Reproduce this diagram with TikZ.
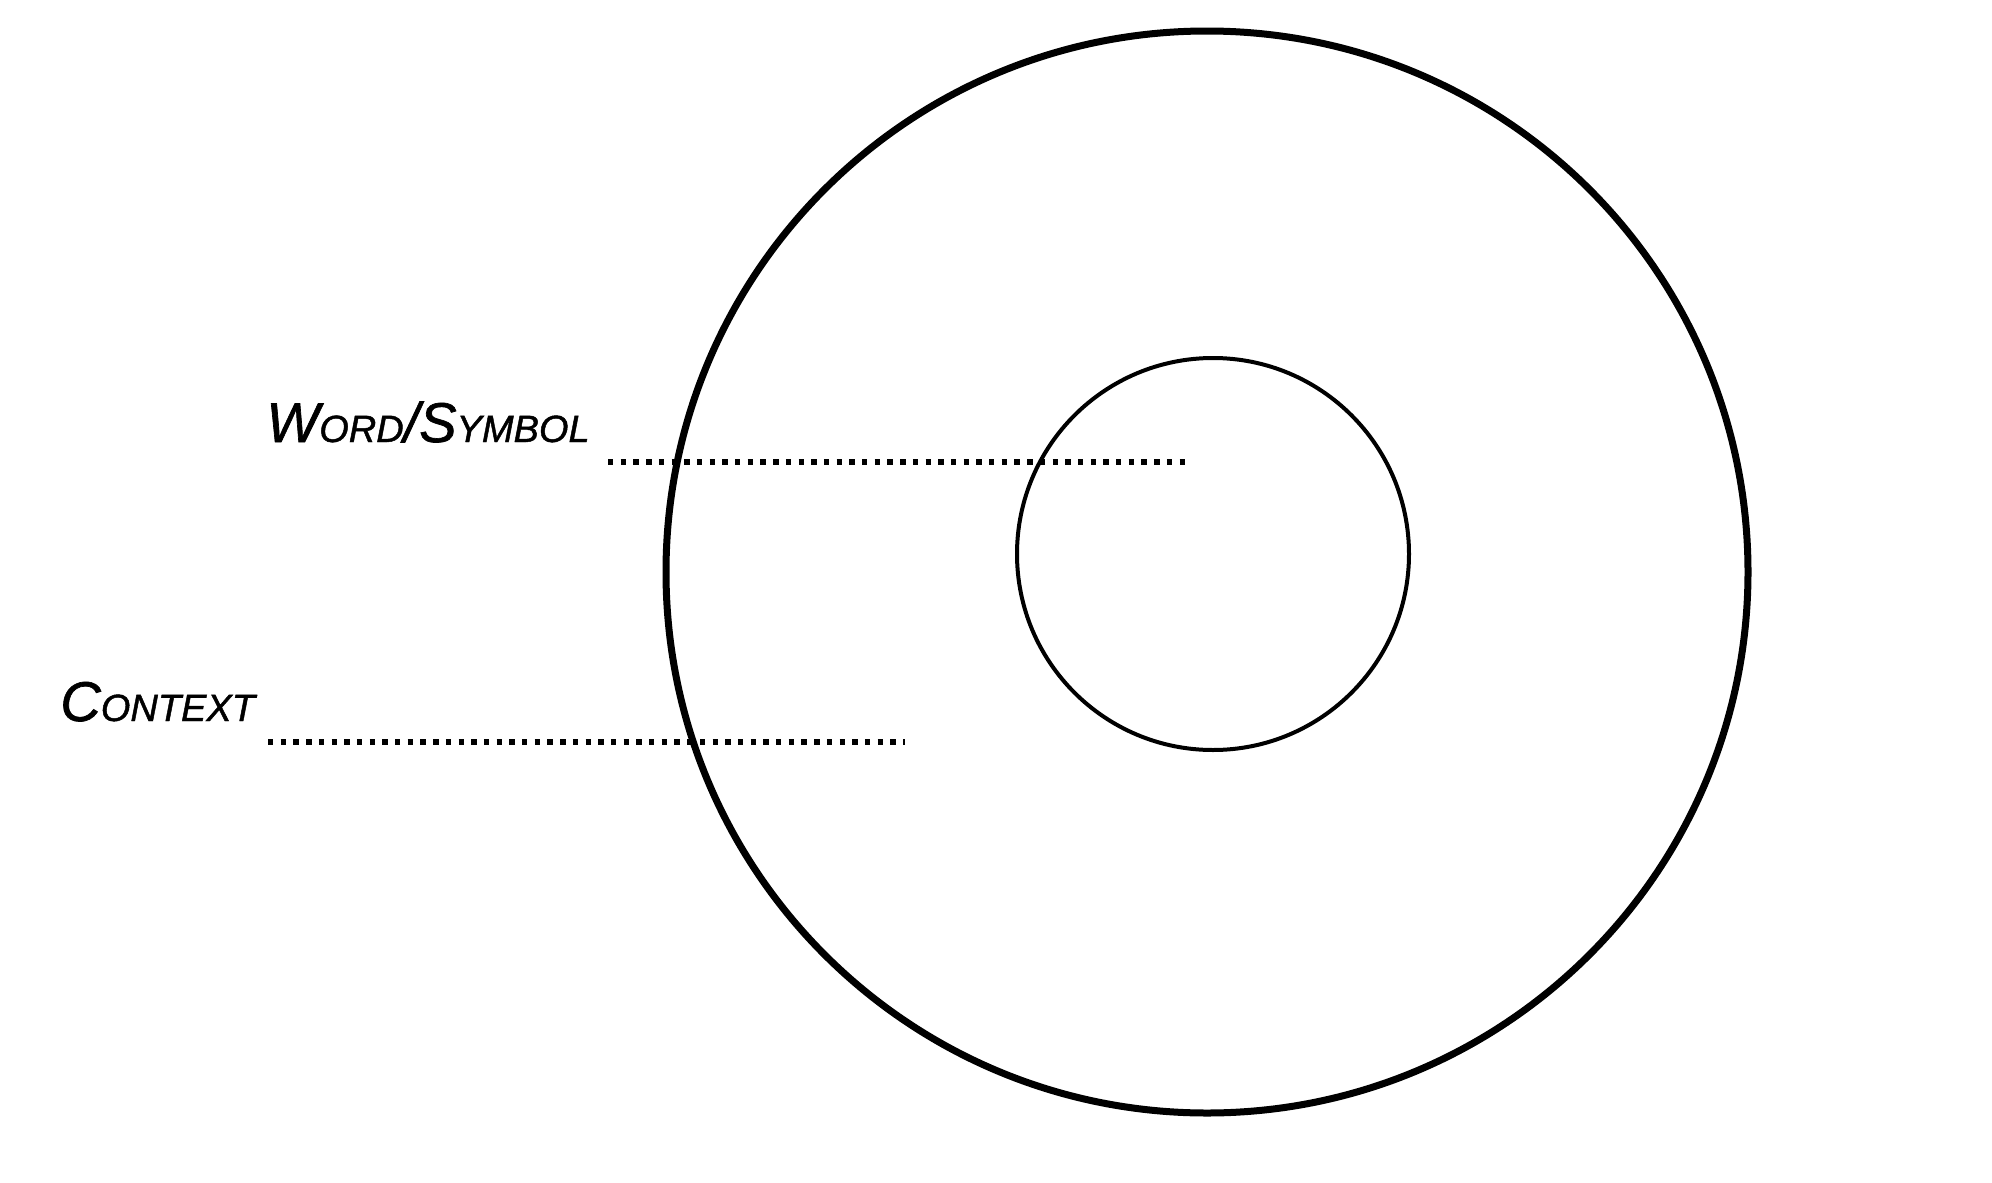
\documentclass[tikz,border=0pt]{standalone}
\usepackage{fontspec}
\setmainfont{Liberation Sans}[ItalicFeatures={FakeBold=1.2}]
\begin{document}
\begin{tikzpicture}[x=0.5pt,y=-0.5pt,
  ring/.style={circle,draw=black,inner sep=0pt},
  leader/.style={line width=3pt,dash pattern=on 2.7pt off 3.65pt},
  lbl/.style={anchor=base west,inner sep=0pt,font=\itshape},
]
\useasboundingbox (0,0) rectangle (1992,1183);
\newcommand{\bigc}[1]{{\fontsize{28}{30}\selectfont #1}}
\newcommand{\smc}[1]{{\fontsize{19}{22}\selectfont #1}}
\node[ring,line width=3.5pt,minimum size=541pt] (outer) at (1207,572) {};
\node[ring,line width=2pt,minimum size=196pt] (inner) at (1213,554) {};
\node[lbl] (word) at (266,442) {\bigc{W}\smc{ORD}\bigc{/S}\smc{YMBOL}};
\node[lbl] (context) at (60,721) {\bigc{C}\smc{ONTEXT}};
\coordinate (w1) at (608,462);
\coordinate (w2) at (1190,462);
\coordinate (c1) at (268,742);
\coordinate (c2) at (905,742);
\draw[leader] (w1) -- (w2);
\draw[leader] (c1) -- (c2);
\end{tikzpicture}
\end{document}
